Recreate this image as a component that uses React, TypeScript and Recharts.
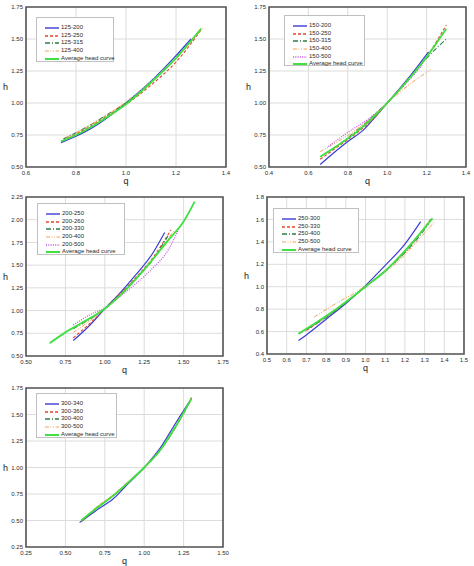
import React from 'react';
import { LineChart, Line, XAxis, YAxis, CartesianGrid, Legend, ReferenceArea } from 'recharts';

type Pt = [number, number];

// ---- panel 1: 125 series
const p1QTicks = [0.6, 0.8, 1.0, 1.2, 1.4];
const p1HTicks = [0.5, 0.75, 1.0, 1.25, 1.5, 1.75];
const s125_200: Pt[] = [[0.74, 0.69], [0.8, 0.74], [0.85, 0.79], [0.9, 0.85], [1.0, 1.0], [1.1, 1.17], [1.2, 1.37], [1.26, 1.5]];
const s125_250: Pt[] = [[0.75, 0.71], [0.85, 0.81], [0.95, 0.93], [1.0, 0.99], [1.1, 1.14], [1.2, 1.32], [1.3, 1.57]];
const s125_315: Pt[] = [[0.75, 0.72], [0.85, 0.82], [0.95, 0.94], [1.0, 1.0], [1.1, 1.16], [1.2, 1.35], [1.3, 1.58]];
const s125_400: Pt[] = [[0.76, 0.73], [0.85, 0.82], [0.95, 0.94], [1.0, 1.01], [1.1, 1.17], [1.2, 1.35], [1.31, 1.59]];
const avg125: Pt[] = [[0.74, 0.7], [0.8, 0.75], [0.9, 0.86], [1.0, 0.99], [1.1, 1.16], [1.2, 1.35], [1.3, 1.58]];

// ---- panel 2: 150 series
const p2QTicks = [0.4, 0.6, 0.8, 1.0, 1.2, 1.4];
const p2HTicks = [0.5, 0.75, 1.0, 1.25, 1.5, 1.75];
const s150_200: Pt[] = [[0.66, 0.52], [0.72, 0.6], [0.8, 0.7], [0.88, 0.79], [0.95, 0.91], [1.0, 1.0], [1.1, 1.18], [1.21, 1.4]];
const s150_250: Pt[] = [[0.66, 0.56], [0.75, 0.66], [0.85, 0.77], [0.95, 0.91], [1.0, 1.0], [1.1, 1.17], [1.2, 1.36], [1.3, 1.61]];
const s150_315: Pt[] = [[0.68, 0.6], [0.75, 0.67], [0.85, 0.79], [0.95, 0.93], [1.0, 1.0], [1.1, 1.17], [1.2, 1.35], [1.3, 1.5]];
const s150_400: Pt[] = [[0.66, 0.62], [0.75, 0.7], [0.85, 0.8], [0.95, 0.93], [1.0, 1.0], [1.1, 1.13], [1.22, 1.26]];
const s150_500: Pt[] = [[0.7, 0.66], [0.8, 0.77], [0.9, 0.87], [0.95, 0.93], [1.0, 1.0], [1.1, 1.16], [1.18, 1.3]];
const avg150: Pt[] = [[0.66, 0.58], [0.75, 0.67], [0.85, 0.78], [0.95, 0.92], [1.0, 1.0], [1.1, 1.17], [1.2, 1.36], [1.3, 1.58]];

// ---- panel 3: 200 series
const p3QTicks = [0.5, 0.75, 1.0, 1.25, 1.5, 1.75];
const p3HTicks = [0.5, 0.75, 1.0, 1.25, 1.5, 1.75, 2.0, 2.25];
const s200_250: Pt[] = [[0.8, 0.67], [0.9, 0.83], [1.0, 1.02], [1.1, 1.2], [1.2, 1.4], [1.3, 1.62], [1.38, 1.86]];
const s200_260: Pt[] = [[0.8, 0.7], [0.9, 0.85], [1.0, 1.02], [1.1, 1.19], [1.2, 1.37], [1.3, 1.57], [1.42, 1.89]];
const s200_330: Pt[] = [[0.8, 0.8], [0.9, 0.9], [1.0, 1.02], [1.1, 1.18], [1.2, 1.36], [1.3, 1.55], [1.4, 1.82]];
const s200_400: Pt[] = [[0.8, 0.76], [0.9, 0.88], [1.0, 1.02], [1.1, 1.18], [1.2, 1.36], [1.3, 1.56], [1.44, 1.88]];
const s200_500: Pt[] = [[0.8, 0.84], [0.9, 0.95], [1.0, 1.03], [1.1, 1.16], [1.2, 1.3], [1.3, 1.46], [1.4, 1.66], [1.47, 1.9]];
const avg200: Pt[] = [[0.65, 0.64], [0.75, 0.76], [0.85, 0.86], [1.0, 1.02], [1.1, 1.17], [1.25, 1.45], [1.4, 1.77], [1.5, 1.98], [1.57, 2.2]];

// ---- panel 4: 250 series
const p4QTicks = [0.5, 0.6, 0.7, 0.8, 0.9, 1.0, 1.1, 1.2, 1.3, 1.4, 1.5];
const p4HTicks = [0.4, 0.6, 0.8, 1.0, 1.2, 1.4, 1.6, 1.8];
const s250_300: Pt[] = [[0.66, 0.52], [0.7, 0.57], [0.8, 0.71], [0.9, 0.85], [1.0, 1.01], [1.1, 1.19], [1.2, 1.38], [1.28, 1.58]];
const s250_330: Pt[] = [[0.7, 0.61], [0.8, 0.73], [0.9, 0.86], [1.0, 1.0], [1.1, 1.14], [1.2, 1.31], [1.33, 1.6]];
const s250_400: Pt[] = [[0.66, 0.58], [0.75, 0.67], [0.85, 0.79], [0.95, 0.93], [1.05, 1.07], [1.15, 1.22], [1.25, 1.4], [1.32, 1.56]];
const s250_500: Pt[] = [[0.74, 0.73], [0.85, 0.85], [0.95, 0.95], [1.05, 1.07], [1.15, 1.2], [1.25, 1.38], [1.35, 1.58]];
const avg250: Pt[] = [[0.66, 0.58], [0.75, 0.68], [0.85, 0.8], [0.95, 0.93], [1.0, 1.0], [1.1, 1.14], [1.2, 1.32], [1.34, 1.61]];

// ---- panel 5: 300 series
const p5QTicks = [0.25, 0.5, 0.75, 1.0, 1.25, 1.5];
const p5HTicks = [0.25, 0.5, 0.75, 1.0, 1.25, 1.5, 1.75];
const s300_340: Pt[] = [[0.59, 0.48], [0.7, 0.6], [0.8, 0.7], [0.9, 0.85], [1.0, 1.0], [1.1, 1.18], [1.2, 1.42], [1.3, 1.65]];
const s300_360: Pt[] = [[0.6, 0.49], [0.7, 0.62], [0.8, 0.73], [0.9, 0.86], [1.0, 1.0], [1.1, 1.16], [1.2, 1.39], [1.3, 1.66]];
const s300_400: Pt[] = [[0.6, 0.49], [0.7, 0.62], [0.8, 0.73], [0.9, 0.86], [1.0, 1.0], [1.1, 1.16], [1.2, 1.38], [1.29, 1.62]];
const s300_500: Pt[] = [[0.62, 0.52], [0.7, 0.63], [0.8, 0.74], [0.9, 0.87], [1.0, 1.0], [1.1, 1.16], [1.2, 1.38], [1.28, 1.6]];
const avg300: Pt[] = [[0.6, 0.5], [0.7, 0.62], [0.8, 0.73], [0.9, 0.86], [1.0, 1.0], [1.1, 1.16], [1.2, 1.39], [1.3, 1.65]];

const AVG = 'Average head curve';

// line styles in legend order; avg is the thick green curve
const STYLES = {
  blue: { color: '#3b3bd6', dash: undefined, w: 1.2 },
  red: { color: '#e8452e', dash: '3 2', w: 1.1 },
  green: { color: '#2a7d4a', dash: '5 2 1 2', w: 1.1 },
  orange: { color: '#f5a15a', dash: '4 1.5 1 1.5 1 1.5', w: 1 },
  purple: { color: '#c04fe6', dash: '1 1.3', w: 1.2 },
  avg: { color: '#3fe03f', dash: undefined, w: 1.8 },
};

type StyleKey = keyof typeof STYLES;
interface Series { name: string; pts: Pt[]; st: StyleKey }

const FONT = '"Liberation Sans", Arial, sans-serif';
const Y_W = 26;
const M_T = 7;
const M_R = 8;
const X_H = 20;

const LegendBox = ({ series, w, h }: { series: Series[]; w: number; h: number }) => (
  <div
    style={{
      width: w,
      height: h,
      boxSizing: 'border-box',
      border: '1px solid #c0c0c0',
      background: '#fff',
      paddingTop: 6,
      paddingLeft: 8,
      fontFamily: FONT,
      fontSize: 6,
      color: '#2a2a2a',
    }}
  >
    {series.map((s) => {
      const st = STYLES[s.st];
      return (
        <div key={s.name} style={{ display: 'flex', alignItems: 'center', height: 7.7, lineHeight: '7.7px' }}>
          <svg width={14} height={4} style={{ marginRight: 2, flex: 'none' }}>
            <line x1={0} y1={2} x2={14} y2={2} stroke={st.color} strokeWidth={st.w + 0.2} strokeDasharray={st.dash} />
          </svg>
          <span style={{ whiteSpace: 'nowrap' }}>{s.name}</span>
        </div>
      );
    })}
  </div>
);

interface PanelProps {
  left: number;
  top: number;
  plotW: number;
  plotH: number;
  qTicks: number[];
  hTicks: number[];
  qDigits: number;
  hDigits: number;
  series: Series[];
  legend: { x: number; y: number; w: number; h: number };
}

const Panel: React.FC<PanelProps> = ({ left, top, plotW, plotH, qTicks, hTicks, qDigits, hDigits, series, legend }) => {
  const qMin = qTicks[0];
  const qMax = qTicks[qTicks.length - 1];
  const hMin = hTicks[0];
  const hMax = hTicks[hTicks.length - 1];
  const tick = { fontSize: 6, fill: '#2a2a2a', fontFamily: FONT };
  return (
    <div style={{ position: 'absolute', left, top }}>
      <LineChart
        width={Y_W + plotW + M_R}
        height={M_T + plotH + X_H}
        margin={{ top: M_T, right: M_R, bottom: 0, left: 0 }}
      >
        <CartesianGrid stroke="#dcdcdc" strokeWidth={1} />
        <XAxis
          type="number"
          dataKey="q"
          domain={[qMin, qMax]}
          ticks={qTicks}
          interval={0}
          allowDataOverflow
          tickFormatter={(v: number) => v.toFixed(qDigits)}
          tick={tick}
          tickLine={false}
          axisLine={false}
          tickSize={0}
          tickMargin={4}
          height={X_H}
          label={{ value: 'q', position: 'insideBottom', offset: 3, fontSize: 9, fill: '#222', fontFamily: FONT }}
        />
        <YAxis
          type="number"
          dataKey="h"
          domain={[hMin, hMax]}
          ticks={hTicks}
          interval={0}
          allowDataOverflow
          tickFormatter={(v: number) => v.toFixed(hDigits)}
          tick={tick}
          tickLine={false}
          axisLine={false}
          tickSize={0}
          tickMargin={3}
          width={Y_W}
          label={{ value: 'h', position: 'insideLeft', offset: 3, fontSize: 9, fill: '#222', fontFamily: FONT }}
        />
        {series.map((s) => {
          const st = STYLES[s.st];
          return (
            <Line
              key={s.name}
              name={s.name}
              data={s.pts.map(([q, h]) => ({ q, h }))}
              dataKey="h"
              type="monotone"
              stroke={st.color}
              strokeWidth={st.w}
              strokeDasharray={st.dash}
              dot={false}
              activeDot={false}
              isAnimationActive={false}
            />
          );
        })}
        <ReferenceArea x1={qMin} x2={qMax} y1={hMin} y2={hMax} fill="none" stroke="#555" strokeWidth={1.6} />
        <Legend
          layout="vertical"
          align="center"
          verticalAlign="middle"
          wrapperStyle={{ left: legend.x, top: legend.y, width: legend.w, height: legend.h }}
          content={() => <LegendBox series={series} w={legend.w} h={legend.h} />}
        />
      </LineChart>
    </div>
  );
};

const panel1: Series[] = [
  { name: '125-200', pts: s125_200, st: 'blue' },
  { name: '125-250', pts: s125_250, st: 'red' },
  { name: '125-315', pts: s125_315, st: 'green' },
  { name: '125-400', pts: s125_400, st: 'orange' },
  { name: AVG, pts: avg125, st: 'avg' },
];
const panel2: Series[] = [
  { name: '150-200', pts: s150_200, st: 'blue' },
  { name: '150-250', pts: s150_250, st: 'red' },
  { name: '150-315', pts: s150_315, st: 'green' },
  { name: '150-400', pts: s150_400, st: 'orange' },
  { name: '150-500', pts: s150_500, st: 'purple' },
  { name: AVG, pts: avg150, st: 'avg' },
];
const panel3: Series[] = [
  { name: '200-250', pts: s200_250, st: 'blue' },
  { name: '200-260', pts: s200_260, st: 'red' },
  { name: '200-330', pts: s200_330, st: 'green' },
  { name: '200-400', pts: s200_400, st: 'orange' },
  { name: '200-500', pts: s200_500, st: 'purple' },
  { name: AVG, pts: avg200, st: 'avg' },
];
const panel4: Series[] = [
  { name: '250-300', pts: s250_300, st: 'blue' },
  { name: '250-330', pts: s250_330, st: 'red' },
  { name: '250-400', pts: s250_400, st: 'green' },
  { name: '250-500', pts: s250_500, st: 'orange' },
  { name: AVG, pts: avg250, st: 'avg' },
];
const panel5: Series[] = [
  { name: '300-340', pts: s300_340, st: 'blue' },
  { name: '300-360', pts: s300_360, st: 'red' },
  { name: '300-400', pts: s300_400, st: 'green' },
  { name: '300-500', pts: s300_500, st: 'orange' },
  { name: AVG, pts: avg300, st: 'avg' },
];

export default function App() {
  return (
    <div style={{ position: 'absolute', left: 0, top: 0, width: 474, height: 566, background: '#fff', overflow: 'hidden' }}>
      <Panel left={0} top={0} plotW={200} plotH={160} qTicks={p1QTicks} hTicks={p1HTicks} qDigits={1} hDigits={2}
        series={panel1} legend={{ x: 36, y: 17, w: 78, h: 45 }} />
      <Panel left={243} top={0} plotW={197} plotH={160} qTicks={p2QTicks} hTicks={p2HTicks} qDigits={1} hDigits={2}
        series={panel2} legend={{ x: 41, y: 15, w: 81, h: 51 }} />
      <Panel left={0} top={190} plotW={197} plotH={159} qTicks={p3QTicks} hTicks={p3HTicks} qDigits={2} hDigits={2}
        series={panel3} legend={{ x: 37, y: 13, w: 88, h: 52 }} />
      <Panel left={241} top={190} plotW={197} plotH={157} qTicks={p4QTicks} hTicks={p4HTicks} qDigits={1} hDigits={1}
        series={panel4} legend={{ x: 32, y: 18, w: 86, h: 45 }} />
      <Panel left={0} top={381} plotW={197} plotH={159} qTicks={p5QTicks} hTicks={p5HTicks} qDigits={2} hDigits={2}
        series={panel5} legend={{ x: 36, y: 12, w: 81, h: 45 }} />
    </div>
  );
}
